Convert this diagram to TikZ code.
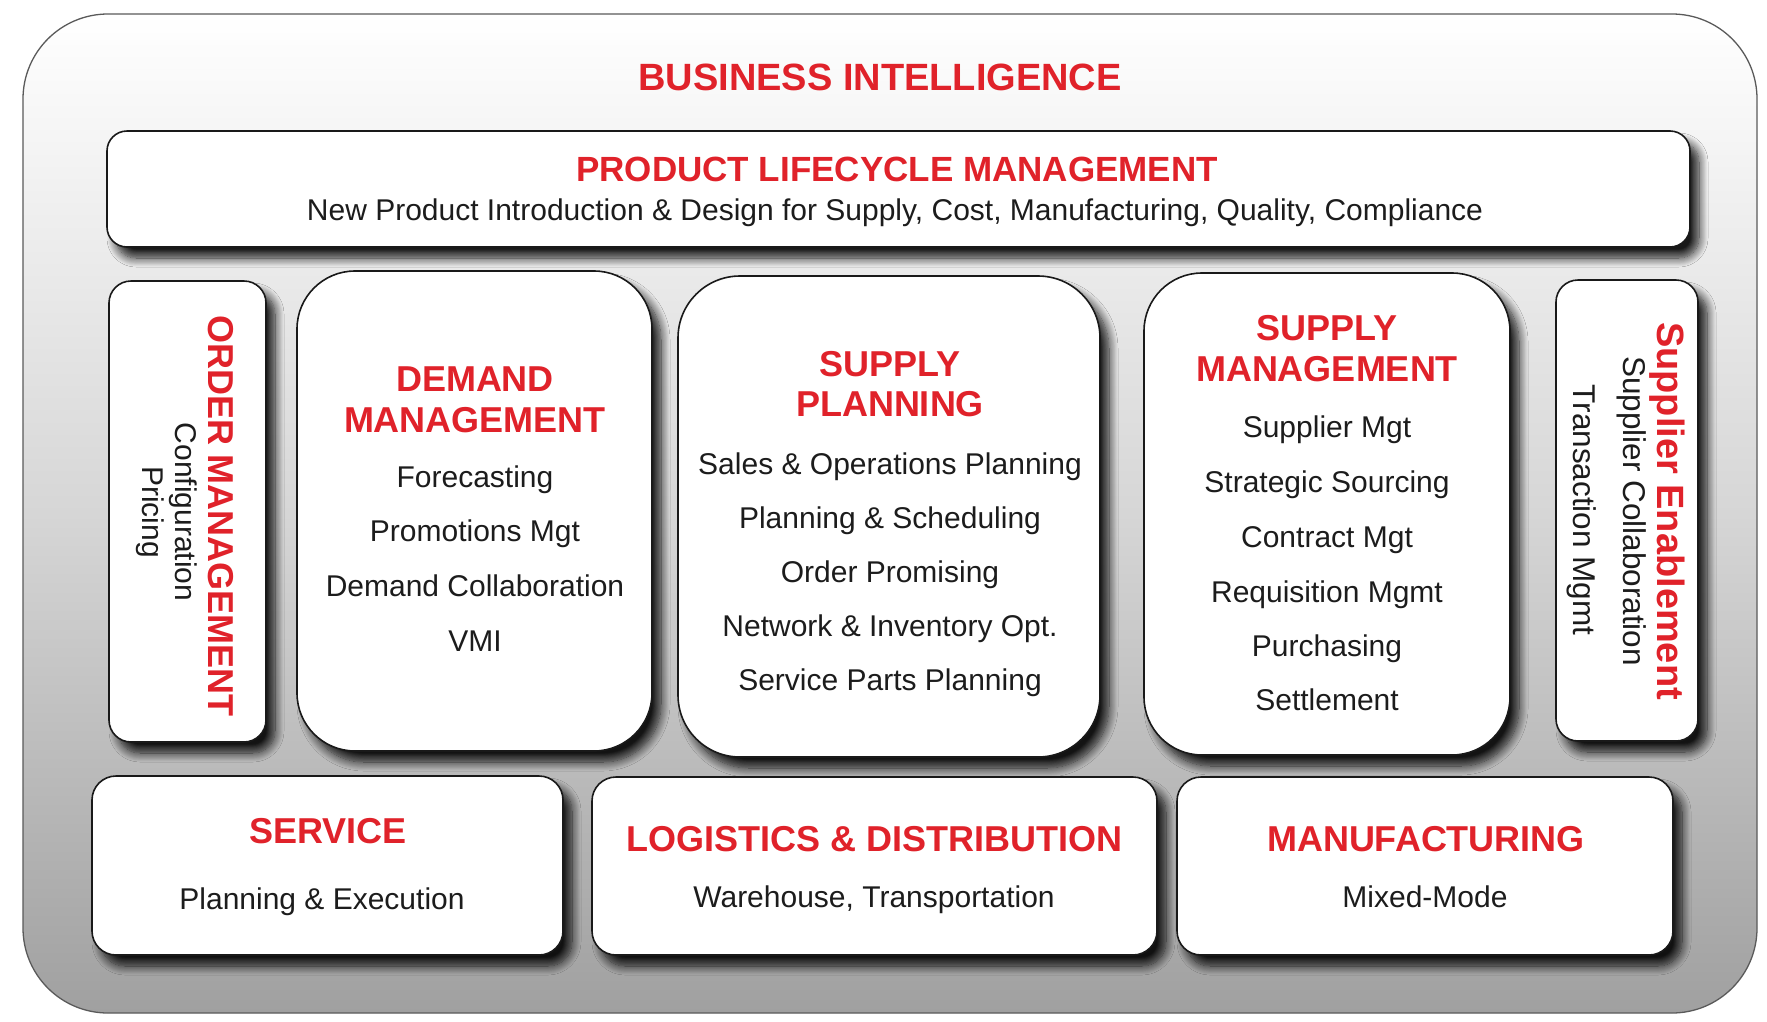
\documentclass[tikz,border=0pt]{standalone}
\usepackage{fontspec}
\setmainfont{Liberation Sans}
\usetikzlibrary{shadows.blur}
\definecolor{tred}{RGB}{224,34,42}
\definecolor{ttext}{RGB}{28,28,28}
\definecolor{outerline}{RGB}{90,90,90}
\definecolor{boxline}{RGB}{25,25,25}
\begin{document}
\begin{tikzpicture}[x=1pt,y=-1pt,
  box/.style={draw=boxline, line width=1.6pt, fill=white, rounded corners=#1,
    inner sep=0pt, outer sep=0pt,
    blur shadow={shadow xshift=9pt, shadow yshift=-11pt, shadow blur radius=9pt,
      shadow blur steps=12, shadow opacity=90}},
  ttl/.style={font=\bfseries\fontsize{36}{36}\selectfont, text=tred, inner sep=0pt, anchor=base},
  bigttl/.style={font=\bfseries\fontsize{38}{38}\selectfont, text=tred, inner sep=0pt, anchor=base},
  itm/.style={font=\fontsize{30}{30}\selectfont, text=ttext, inner sep=0pt, anchor=base}]
\useasboundingbox (0,0) rectangle (1767,1021);
\fill[white] (0,0) rectangle (1767,1021);
% outer frame
\draw[draw=outerline, line width=1.3pt, rounded corners=85pt,
  top color=white, bottom color={rgb,255:red,160;green,160;blue,160},
  middle color={rgb,255:red,214;green,214;blue,214}] (23,14) rectangle (1757,1013);
\node[bigttl] (bi) at (880,90) {BUSINESS INTELLIGENCE};
% PLM
\node[box=20pt, minimum width=1583pt, minimum height=116pt] (plm) at (898.5,189) {};
\node[font=\bfseries\fontsize{35}{35}\selectfont, text=tred, inner sep=0pt, anchor=base] (plmt) at (897,181) {PRODUCT LIFECYCLE MANAGEMENT};
\node[itm] (plms) at (895,220) {New Product Introduction \& Design for Supply, Cost, Manufacturing, Quality, Compliance};
% middle row
\node[box=22pt, minimum width=157pt, minimum height=461pt] (order) at (187.5,511.5) {};
\node[box=58pt, minimum width=355pt, minimum height=480pt] (demand) at (474.5,511) {};
\node[box=62pt, minimum width=422pt, minimum height=481pt] (splan) at (889,516.5) {};
\node[box=58pt, minimum width=366pt, minimum height=482pt] (smgmt) at (1327,514) {};
\node[box=22pt, minimum width=142pt, minimum height=461pt] (senab) at (1627,510.5) {};
% order management
\node[ttl, rotate=-90] (omt) at (208,516) {ORDER MANAGEMENT};
\node[itm, rotate=-90] (omc) at (175,512) {Configuration};
\node[itm, rotate=-90] (omp) at (142,512) {Pricing};
% demand management
\node[ttl] (dm1) at (475,391) {DEMAND};
\node[ttl] (dm2) at (475,432) {MANAGEMENT};
\node[itm] (dma) at (475,487) {Forecasting};
\node[itm] (dmb) at (475,541) {Promotions Mgt};
\node[itm] (dmc) at (475,596) {Demand Collaboration};
\node[itm] (dmd) at (475,651) {VMI};
% supply planning
\node[ttl] (sp1) at (890,376) {SUPPLY};
\node[ttl] (sp2) at (890,416) {PLANNING};
\node[itm] (spa) at (890,474) {Sales \& Operations Planning};
\node[itm] (spb) at (890,528) {Planning \& Scheduling};
\node[itm] (spc) at (890,582) {Order Promising};
\node[itm] (spd) at (890,636) {Network \& Inventory Opt.};
\node[itm] (spe) at (890,690) {Service Parts Planning};
% supply management
\node[ttl] (sm1) at (1327,340) {SUPPLY};
\node[ttl] (sm2) at (1327,381) {MANAGEMENT};
\node[itm] (sma) at (1327,437) {Supplier Mgt};
\node[itm] (smb) at (1327,492) {Strategic Sourcing};
\node[itm] (smc) at (1327,547) {Contract Mgt};
\node[itm] (smd) at (1327,602) {Requisition Mgmt};
\node[itm] (sme) at (1327,656) {Purchasing};
\node[itm] (smf) at (1327,710) {Settlement};
% supplier enablement
\node[ttl, font=\bfseries\fontsize{38}{38}\selectfont, rotate=-90] (set) at (1657,511) {Supplier Enablement};
\node[itm, font=\fontsize{31.5}{31.5}\selectfont, rotate=-90] (sec) at (1623,511) {Supplier Collaboration};
\node[itm, font=\fontsize{31.5}{31.5}\selectfont, rotate=-90] (setm) at (1573,510) {Transaction Mgmt};
% bottom row
\node[box=24pt, minimum width=471pt, minimum height=179pt] (service) at (327.5,865.5) {};
\node[box=24pt, minimum width=565pt, minimum height=178pt] (logis) at (874.5,866) {};
\node[box=24pt, minimum width=496pt, minimum height=178pt] (manuf) at (1425,866) {};
\node[ttl] (svt) at (328,843) {SERVICE};
\node[itm] (svs) at (322,909) {Planning \& Execution};
\node[ttl] (lgt) at (874,851) {LOGISTICS \& DISTRIBUTION};
\node[itm] (lgs) at (874,907) {Warehouse, Transportation};
\node[ttl] (mft) at (1426,851) {MANUFACTURING};
\node[itm] (mfs) at (1425,907) {Mixed-Mode};
\end{tikzpicture}
\end{document}
